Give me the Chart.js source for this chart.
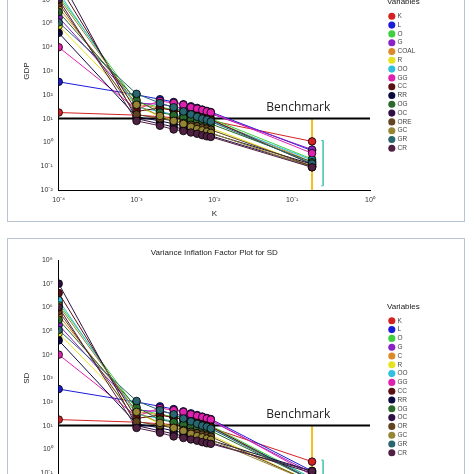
<!DOCTYPE html>
<html>
<head>
<meta charset="utf-8">
<script src="https://cdn.jsdelivr.net/npm/chart.js@4"></script>
<style>
  body { margin: 0; background: #fff; width: 474px; height: 474px; overflow: hidden; position: relative; }
  .box { position: absolute; left: 7px; width: 458px; border: 1px solid #b8c4d4; box-sizing: border-box; }
  canvas { position: absolute; left: 0; }
</style>
</head>
<body>
<div class="box" style="top:-66px;height:288px;"><canvas id="gdp" style="top:0"></canvas></div>
<div class="box" style="top:238px;height:300px;"><canvas id="sd" style="top:0"></canvas></div>
<script>
// 横軸 K の値
const kValues = [0.0001, 0.001, 0.002, 0.003, 0.004, 0.005, 0.006, 0.007, 0.008, 0.009, 0.18];

const names = ["K", "L", "O", "G", "COAL", "R", "OO", "GG", "CC", "RR", "OG", "OC", "ORE", "GC", "GR", "CR"];
const namesSD = ["K", "L", "O", "G", "C", "R", "OO", "GG", "CC", "RR", "OG", "OC", "OR", "GC", "GR", "CR"];
const colors = ["#d42222", "#1c1cd8", "#3fcf3f", "#8a22c8", "#d98a2a", "#e6e21e", "#2fc0e0", "#e021b0",
  "#5a1010", "#0b0b42", "#2b6a2b", "#301044", "#644420", "#958535", "#2a6670", "#502042"];

// 各変数の VIF（GDP）
const vifGDP = [
  [18, 14, 12, 11, 10.5, 10, 9.5, 9, 8.6, 8.2, 1.1],
  [350, 100, 65, 50, 40, 33, 28, 24, 21, 19, 0.45],
  [1.5e6, 50, 30, 24, 19, 16, 14, 12, 11, 10, 0.2],
  [1.8e5, 45, 40, 32, 26, 22, 20, 18, 17, 16, 0.5],
  [4.5e5, 40, 28, 22, 18, 15, 13, 11, 10, 9, 0.15],
  [8e4, 35, 12, 9, 7.5, 6, 5.5, 5, 4.5, 4, 0.1],
  [2e6, 30, 20, 15, 13, 11, 10, 9, 8.5, 8, 0.18],
  [1e4, 25, 55, 45, 38, 30, 26, 23, 20, 18, 0.35],
  [4e6, 20, 28, 22, 18, 15, 13, 11, 10, 9, 0.12],
  [4e4, 12, 8, 6, 5, 4, 3.5, 3, 2.7, 2.4, 0.12],
  [3e5, 60, 18, 14, 11, 9, 8, 7, 6.5, 6, 0.15],
  [1e7, 10, 6, 4.5, 3.6, 3, 2.6, 2.3, 2.1, 1.9, 0.1],
  [7e5, 15, 10, 8, 6.5, 5.5, 4.8, 4.2, 3.8, 3.4, 0.1],
  [1.2e6, 38, 13, 8, 6, 4.5, 3.6, 3.2, 2.8, 2.5, 0.09],
  [1.1e5, 110, 45, 30, 20, 15, 12, 10, 9, 7.5, 0.13],
  [1e6, 8, 5, 3.5, 3, 2.6, 2.3, 2.0, 1.8, 1.7, 0.09],
];

// 各変数の VIF（SD）
const vifSD = [
  [18, 14, 12, 11, 10.5, 10, 9.5, 9, 8.6, 8.2, 0.3],
  [350, 100, 65, 50, 40, 33, 28, 24, 21, 19, 0.12],
  [1.5e6, 50, 30, 24, 19, 16, 14, 12, 11, 10, 0.06],
  [1.8e5, 45, 40, 32, 26, 22, 20, 18, 17, 16, 0.1],
  [4.5e5, 40, 28, 22, 18, 15, 13, 11, 10, 9, 0.05],
  [8e4, 35, 12, 9, 7.5, 6, 5.5, 5, 4.5, 4, 0.04],
  [2e6, 30, 20, 15, 13, 11, 10, 9, 8.5, 8, 0.06],
  [1e4, 25, 55, 45, 38, 30, 26, 23, 20, 18, 0.08],
  [4e6, 20, 28, 22, 18, 15, 13, 11, 10, 9, 0.05],
  [4e4, 12, 8, 6, 5, 4, 3.5, 3, 2.7, 2.4, 0.12],
  [3e5, 60, 18, 14, 11, 9, 8, 7, 6.5, 6, 0.05],
  [1e7, 10, 6, 4.5, 3.6, 3, 2.6, 2.3, 2.1, 1.9, 0.1],
  [7e5, 15, 10, 8, 6.5, 5.5, 4.8, 4.2, 3.8, 3.4, 0.04],
  [1.2e6, 38, 13, 8, 6, 4.5, 3.6, 3.2, 2.8, 2.5, 0.04],
  [1.1e5, 110, 45, 30, 20, 15, 12, 10, 9, 7.5, 0.05],
  [1e6, 8, 5, 3.5, 3, 2.6, 2.3, 2.0, 1.8, 1.7, 0.12],
];

const benchmark = 10;
const yTicks = [-2, -1, 0, 1, 2, 3, 4, 5, 6, 7, 8];
const xTicks = [-4, -3, -2, -1, 0];

const sup = { "-": "⁻", "0": "⁰", "1": "¹", "2": "²", "3": "³", "4": "⁴", "5": "⁵", "6": "⁶", "7": "⁷", "8": "⁸", "9": "⁹" };
function powLabel(v) {
  const e = Math.round(Math.log10(v));
  return "10" + String(e).split("").map((c) => sup[c]).join("");
}

// 凡例の幅を固定して、位置を少しずらす
const legendWidth = {
  id: "legendWidth",
  beforeInit(chart) {
    const fit = chart.legend.fit;
    chart.legend.fit = function () { fit.bind(chart.legend)(); this.width = 94; };
  },
  afterLayout(chart, args, opts) {
    chart.legend.left += 17;
    chart.legend.right -= 12;
    chart.legend.top += opts.dy;
    chart.legend.bottom += opts.dy;
  },
};

// タイトル（プロット領域の中央）と Benchmark の文字
const texts = {
  id: "texts",
  afterDatasetsDraw(chart, args, opts) {
    const { ctx, scales, chartArea } = chart;
    ctx.save();
    ctx.font = "12px 'Open Sans'";
    ctx.fillStyle = "#222";
    ctx.textAlign = "center";
    ctx.textBaseline = "bottom";
    ctx.fillText("Benchmark", scales.x.getPixelForValue(0.12), scales.y.getPixelForValue(benchmark) - 5);
    ctx.font = "8px 'Liberation Sans'";
    ctx.textBaseline = "middle";
    ctx.fillText(opts.title, (chartArea.left + chartArea.right) / 2, 14);
    ctx.restore();
  },
};

function makeChart(id, title, yName, labels, values, w, h, showX, bracket, padTop, legendDy) {
  const cv = document.getElementById(id);
  cv.width = w; cv.height = h;
  cv.style.width = w + "px"; cv.style.height = h + "px";
  const datasets = values.map((vals, i) => ({
    label: labels[i],
    data: vals.map((v, j) => ({ x: kValues[j], y: v })),
    borderColor: colors[i],
    backgroundColor: colors[i],
    pointBorderColor: "#000",
    pointBorderWidth: 0.8,
    pointRadius: 3.8,
    borderWidth: 1,
    order: values.length - i,
  }));
  const extra = [
    { label: "_bench", data: [{ x: 0.0001, y: benchmark }, { x: 1, y: benchmark }], borderColor: "#000", borderWidth: 2 },
    { label: "_vline", data: [{ x: 0.18, y: benchmark }, { x: 0.18, y: 0.01 }], borderColor: "#f0c020", borderWidth: 2 },
    { label: "_brk", data: [{ x: 0.235, y: bracket[0] }, { x: 0.25, y: bracket[0] }, { x: 0.25, y: bracket[1] }, { x: 0.235, y: bracket[1] }], borderColor: "#55c8b8", borderWidth: 1 },
  ].map((d) => ({ ...d, pointRadius: 0, fill: false, order: 100 }));
  return new Chart(cv, {
    type: "line",
    data: { datasets: datasets.concat(extra) },
    options: {
      responsive: false,
      animation: false,
      layout: { padding: { left: 8, top: padTop, right: 0, bottom: 4 } },
      plugins: {
        texts: { title: title },
        legendWidth: { dy: legendDy },
        title: { display: false },
        tooltip: { enabled: false },
        legend: {
          position: "right",
          title: { display: true, text: "Variables", position: "start", font: { size: 8, family: "Liberation Sans" }, color: "#222", padding: 3 },
          labels: {
            usePointStyle: true, pointStyle: "circle", boxWidth: 5, boxHeight: 5,
            padding: 2.3, color: "#444", font: { size: 6.5, family: "Liberation Sans" },
            filter: (item) => !item.text.startsWith("_"),
            generateLabels(chart) {
              return chart.data.datasets.map((d, i) => ({
                text: d.label, fillStyle: d.backgroundColor, strokeStyle: d.backgroundColor, lineWidth: 0,
                pointStyle: "circle", datasetIndex: i, fontColor: "#444",
              }));
            },
          },
        },
      },
      scales: {
        x: {
          type: "logarithmic", min: 0.0001, max: 1,
          afterBuildTicks: (s) => { s.ticks = xTicks.map((e) => ({ value: Math.pow(10, e) })); },
          ticks: { callback: (v) => powLabel(v), font: { size: 7, family: "Liberation Sans" }, color: "#333", maxRotation: 0, autoSkip: false },
          grid: { display: false, drawTicks: true, tickLength: 3, color: "#000" },
          border: { color: "#000", width: 1 },
          title: { display: showX, text: "K", font: { size: 8, family: "Liberation Sans" }, color: "#222", padding: 2 },
        },
        y: {
          type: "logarithmic", min: 0.01, max: 1e8,
          afterBuildTicks: (s) => { s.ticks = yTicks.map((e) => ({ value: Math.pow(10, e) })); },
          ticks: { callback: (v) => powLabel(v), font: { size: 7, family: "Liberation Sans" }, color: "#333", autoSkip: false },
          grid: { display: false, drawTicks: true, tickLength: 3, color: "#000" },
          border: { color: "#000", width: 1 },
          title: { display: true, text: yName, font: { size: 8, family: "Liberation Sans" }, color: "#222", padding: 6 },
        },
      },
    },
    plugins: [legendWidth, texts],
  });
}

makeChart("gdp", "Variance Inflation Factor Plot for GDP", "GDP", names, vifGDP, 456, 290, true, [1.2, 0.015], 17, -12);
makeChart("sd", "Variance Inflation Factor Plot for SD", "SD", namesSD, vifSD, 456, 279, false, [0.35, 0.004], 21, -8);
</script>
</body>
</html>
